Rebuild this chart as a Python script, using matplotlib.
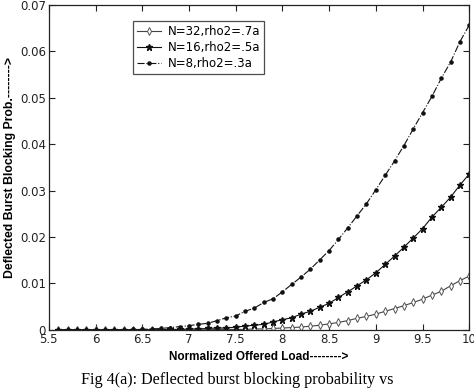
import numpy as np
import matplotlib
matplotlib.use("Agg")
import matplotlib.pyplot as plt

x = [round(5.6 + 0.1 * i, 1) for i in range(45)]

n8 = [0.0000, 0.0000, 0.0000, 0.0000, 0.0000, 0.0000, 0.0000, 0.0000,
      0.0001, 0.0001, 0.0002, 0.0003, 0.0005, 0.0007, 0.0009, 0.0012, 0.0014, 0.0020,
      0.0026, 0.0030, 0.0040, 0.0047, 0.0059, 0.0067, 0.0082, 0.0098, 0.0114, 0.0131,
      0.0151, 0.0171, 0.0195, 0.0220, 0.0246, 0.0272, 0.0302, 0.0333, 0.0364, 0.0397,
      0.0433, 0.0468, 0.0503, 0.0542, 0.0577, 0.0621, 0.0657]

n16 = [0.0000, 0.0000, 0.0000, 0.0000, 0.0000, 0.0000, 0.0000, 0.0000, 0.0000,
       0.0000, 0.0000, 0.0000, 0.0001, 0.0001, 0.0002, 0.0002, 0.0003, 0.0004, 0.0004,
       0.0006, 0.0008, 0.0010, 0.0012, 0.0017, 0.0022, 0.0026, 0.0034, 0.0040, 0.0049,
       0.0057, 0.0070, 0.0082, 0.0095, 0.0108, 0.0123, 0.0141, 0.0159, 0.0178, 0.0198,
       0.0218, 0.0243, 0.0264, 0.0286, 0.0312, 0.0336]

n32 = [0.0000, 0.0000, 0.0000, 0.0000, 0.0000, 0.0000, 0.0000, 0.0000, 0.0000, 0.0000,
       0.0000, 0.0000, 0.0000, 0.0000, 0.0000, 0.0000, 0.0000, 0.0001, 0.0001, 0.0001,
       0.0001, 0.0002, 0.0002, 0.0003, 0.0004, 0.0005, 0.0006, 0.0008, 0.0010, 0.0013,
       0.0016, 0.0020, 0.0025, 0.0029, 0.0034, 0.0040, 0.0046, 0.0052, 0.0059, 0.0066,
       0.0075, 0.0083, 0.0095, 0.0106, 0.0116]

labels = ["N=32,rho2=.7a", "N=16,rho2=.5a", "N=8,rho2=.3a"]
xticks = [5.5, 6, 6.5, 7, 7.5, 8, 8.5, 9, 9.5, 10]
xticklabels = ["5.5", "6", "6.5", "7", "7.5", "8", "8.5", "9", "9.5", "10"]
yticks = [0, 0.01, 0.02, 0.03, 0.04, 0.05, 0.06, 0.07]
yticklabels = ["0", "0.01", "0.02", "0.03", "0.04", "0.05", "0.06", "0.07"]

fig = plt.figure(figsize=(4.74, 3.89), dpi=100)
ax = fig.add_axes([0.103, 0.152, 0.887, 0.835])

ax.plot(x, n32, color="#444444", lw=0.8, marker="d", ms=4, mfc="white",
        mec="#555555", mew=0.7, label=labels[0])
ax.plot(x, n16, color="#111111", lw=0.8, marker="*", ms=4.5, mfc="#111111",
        mec="#111111", label=labels[1])
ax.plot(x, n8, color="#111111", lw=0.8, ls="-.", marker=".", ms=4.5,
        label=labels[2])

ax.set_xlim(5.5, 10)
ax.set_ylim(0, 0.07)
ax.set_xticks(xticks)
ax.set_xticklabels(xticklabels)
ax.set_yticks(yticks)
ax.set_yticklabels(yticklabels)
ax.tick_params(direction="in", top=True, right=True, labelsize=8.5, length=4,
               width=0.8, colors="#222222", pad=2)
for sp in ax.spines.values():
    sp.set_linewidth(0.9)
    sp.set_color("#222222")

ax.set_xlabel("Normalized Offered Load-------->", fontsize=8.5,
              fontweight="bold", family="Liberation Sans", labelpad=4)
ax.set_ylabel("Deflected Burst Blocking Prob.-------->", fontsize=8.8,
              fontweight="bold", family="Liberation Sans", labelpad=3)

leg = ax.legend(loc="upper left", bbox_to_anchor=(0.2, 0.95), fontsize=8.5,
                frameon=True, fancybox=False, edgecolor="#222222",
                handlelength=2.0, borderpad=0.35, labelspacing=0.25,
                handletextpad=0.6, borderaxespad=0)
leg.get_frame().set_linewidth(0.9)

fig.text(0.5, 0.012, "Fig 4(a): Deflected burst blocking probability vs",
         ha="center", va="baseline", fontsize=11.6, family="Liberation Serif")

fig.savefig("out.png", dpi=100)
